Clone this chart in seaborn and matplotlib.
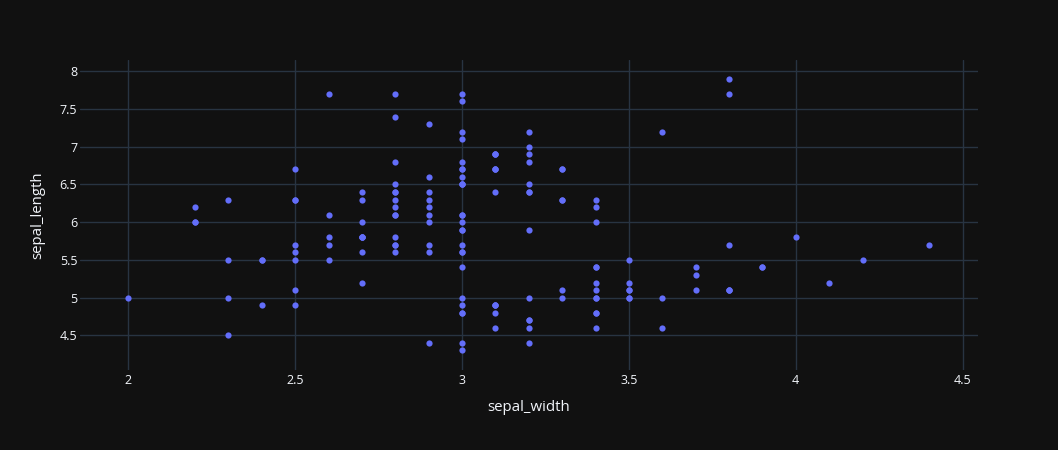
import pandas as pd
import seaborn as sns
import matplotlib.pyplot as plt

sepal_length = [
    5.1, 4.9, 4.7, 4.6, 5.0, 5.4, 4.6, 5.0, 4.4, 4.9, 5.4, 4.8, 4.8, 4.3, 5.8, 5.7, 5.4, 5.1, 5.7, 5.1,
    5.4, 5.1, 4.6, 5.1, 4.8, 5.0, 5.0, 5.2, 5.2, 4.7, 4.8, 5.4, 5.2, 5.5, 4.9, 5.0, 5.5, 4.9, 4.4, 5.1,
    5.0, 4.5, 4.4, 5.0, 5.1, 4.8, 5.1, 4.6, 5.3, 5.0,
    7.0, 6.4, 6.9, 5.5, 6.5, 5.7, 6.3, 4.9, 6.6, 5.2, 5.0, 5.9, 6.0, 6.1, 5.6, 6.7, 5.6, 5.8, 6.2, 5.6,
    5.9, 6.1, 6.3, 6.1, 6.4, 6.6, 6.8, 6.7, 6.0, 5.7, 5.5, 5.5, 5.8, 6.0, 5.4, 6.0, 6.7, 6.3, 5.6, 5.5,
    5.5, 6.1, 5.8, 5.0, 5.6, 5.7, 5.7, 6.2, 5.1, 5.7,
    6.3, 5.8, 7.1, 6.3, 6.5, 7.6, 4.9, 7.3, 6.7, 7.2, 6.5, 6.4, 6.8, 5.7, 5.8, 6.4, 6.5, 7.7, 7.7, 6.0,
    6.9, 5.6, 7.7, 6.3, 6.7, 7.2, 6.2, 6.1, 6.4, 7.2, 7.4, 7.9, 6.4, 6.3, 6.1, 7.7, 6.3, 6.4, 6.0, 6.9,
    6.7, 6.9, 5.8, 6.8, 6.7, 6.7, 6.3, 6.5, 6.2, 5.9,
]
sepal_width = [
    3.5, 3.0, 3.2, 3.1, 3.6, 3.9, 3.4, 3.4, 2.9, 3.1, 3.7, 3.4, 3.0, 3.0, 4.0, 4.4, 3.9, 3.5, 3.8, 3.8,
    3.4, 3.7, 3.6, 3.3, 3.4, 3.0, 3.4, 3.5, 3.4, 3.2, 3.1, 3.4, 4.1, 4.2, 3.1, 3.2, 3.5, 3.1, 3.0, 3.4,
    3.5, 2.3, 3.2, 3.5, 3.8, 3.0, 3.8, 3.2, 3.7, 3.3,
    3.2, 3.2, 3.1, 2.3, 2.8, 2.8, 3.3, 2.4, 2.9, 2.7, 2.0, 3.0, 2.2, 2.9, 2.9, 3.1, 3.0, 2.7, 2.2, 2.5,
    3.2, 2.8, 2.5, 2.8, 2.9, 3.0, 2.8, 3.0, 2.9, 2.6, 2.4, 2.4, 2.7, 2.7, 3.0, 3.4, 3.1, 2.3, 3.0, 2.5,
    2.6, 3.0, 2.6, 2.3, 2.7, 3.0, 2.9, 2.9, 2.5, 2.8,
    3.3, 2.7, 3.0, 2.9, 3.0, 3.0, 2.5, 2.9, 2.5, 3.6, 3.2, 2.7, 3.0, 2.5, 2.8, 3.2, 3.0, 3.8, 2.6, 2.2,
    3.2, 2.8, 2.8, 2.7, 3.3, 3.2, 2.8, 3.0, 2.8, 3.0, 2.8, 3.8, 2.8, 2.8, 2.6, 3.0, 3.4, 3.1, 3.0, 3.1,
    3.1, 3.1, 2.7, 3.2, 3.3, 3.0, 2.5, 3.0, 3.4, 3.0,
]
x_ticks = [2, 2.5, 3, 3.5, 4, 4.5]
y_ticks = [4.5, 5, 5.5, 6, 6.5, 7, 7.5, 8]

BG = "#111111"
GRID = "#283442"
TEXT = "#f2f5fa"
MARKER = "#636efa"


def main():
    sns.set_style("dark")
    plt.rcParams["font.family"] = ["Open Sans", "DejaVu Sans"]

    df = pd.DataFrame({"sepal_width": sepal_width, "sepal_length": sepal_length})

    fig = plt.figure(figsize=(10.58, 4.5), dpi=100, facecolor=BG)
    ax = fig.add_axes([80 / 1058, 80 / 450, 898 / 1058, 310 / 450])
    ax.set_facecolor(BG)

    sns.scatterplot(data=df, x="sepal_width", y="sepal_length", ax=ax,
                    color=MARKER, s=20, linewidth=0, zorder=3)

    ax.set_xlim(1.855, 4.546)
    ax.set_ylim(4.040, 8.150)
    ax.set_xticks(x_ticks)
    ax.set_xticklabels([f"{t:g}" for t in x_ticks])
    ax.set_yticks(y_ticks)
    ax.set_yticklabels([f"{t:g}" for t in y_ticks])

    ax.grid(True, color=GRID, linewidth=1, zorder=0)
    for sp in ax.spines.values():
        sp.set_visible(False)
    ax.tick_params(axis="both", length=0, labelsize=9, colors=TEXT)
    ax.tick_params(axis="x", pad=3)
    ax.tick_params(axis="y", pad=2)

    ax.set_xlabel("sepal_width", color=TEXT, fontsize=10.8, labelpad=9)
    ax.set_ylabel("sepal_length", color=TEXT, fontsize=10.8, labelpad=10)

    fig.savefig("out.png", dpi=100, facecolor=BG)


if __name__ == "__main__":
    main()
